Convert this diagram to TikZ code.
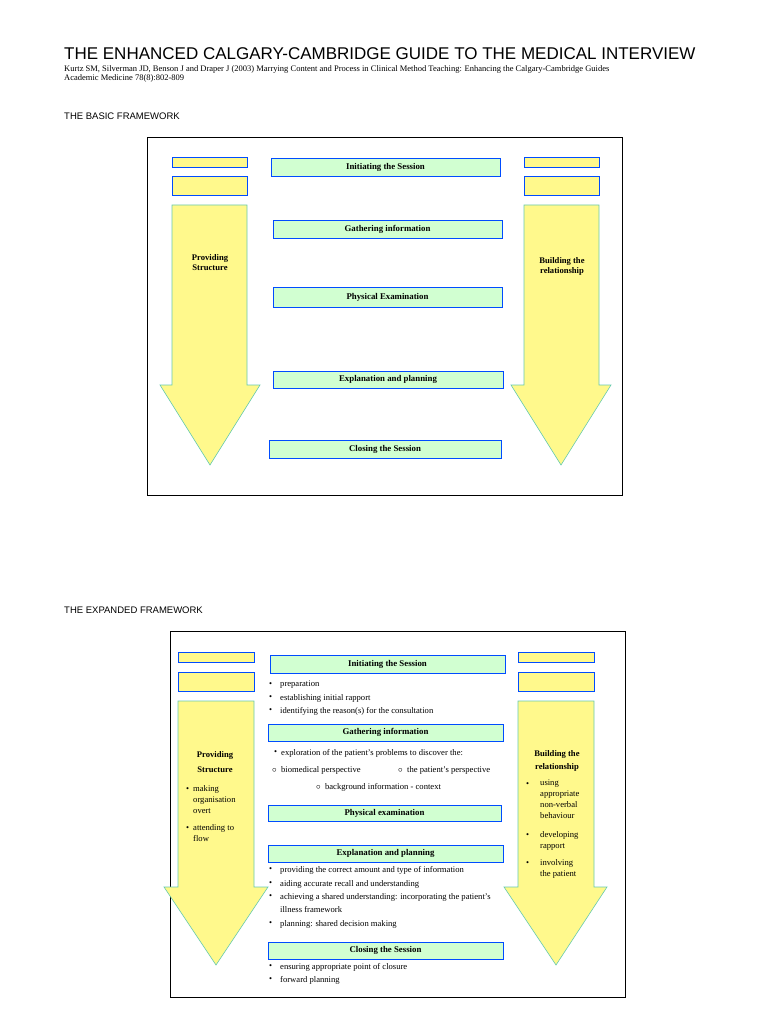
\documentclass[tikz,border=0pt]{standalone}
\usepackage{fontspec}
\setmainfont{Liberation Serif}
\newfontfamily\hdr{Liberation Sans}
\begin{document}
\begin{tikzpicture}[x=1pt,y=-1pt,
  stage/.style={draw=blue!70!cyan,line width=0.8pt,fill=green!18,font=\bfseries\fontsize{8.8}{9}\selectfont,inner sep=0pt},
  ybox/.style={draw=blue!70!cyan,line width=0.8pt,fill=yellow!45},
  arr/.style={draw=cyan!40!green!60,line width=0.6pt,fill=yellow!45},
  txt/.style={font=\fontsize{8.6}{9}\selectfont,anchor=west,inner sep=0pt},
  lst/.style={font=\fontsize{8.6}{11}\selectfont,anchor=north west,align=left,inner sep=0pt},
  side/.style={font=\bfseries\fontsize{8.6}{10}\selectfont,align=center,inner sep=0pt},
  frame/.style={draw=black,line width=0.7pt}]
\useasboundingbox (0,0) rectangle (768,1024);
\node[font=\hdr\fontsize{17}{18}\selectfont,anchor=west,inner sep=0pt] (title) at (64,54) {THE ENHANCED CALGARY-CAMBRIDGE GUIDE TO THE MEDICAL INTERVIEW};
\node[font=\fontsize{8.5}{9.5}\selectfont,anchor=north west,inner sep=0pt,align=left] (cite) at (64,65) {Kurtz SM, Silverman JD, Benson J and Draper J (2003) Marrying Content and Process in Clinical Method Teaching: Enhancing the Calgary-Cambridge Guides\\Academic Medicine 78(8):802-809};
\node[font=\hdr\fontsize{9.5}{10}\selectfont,anchor=west,inner sep=0pt] (basic) at (64,116) {THE BASIC FRAMEWORK};
\node[font=\hdr\fontsize{9.5}{10}\selectfont,anchor=west,inner sep=0pt] (expanded) at (64,610) {THE EXPANDED FRAMEWORK};
% basic
\draw[frame] (147,137) rectangle (622,495);
\draw[ybox] (172,157) rectangle (247,167);
\draw[ybox] (172,176) rectangle (247,195);
\draw[ybox] (524,157) rectangle (599,167);
\draw[ybox] (524,176) rectangle (599,195);
\draw[arr] (172,205) -- (247,205) -- (247,385) -- (260,385) -- (210,465) -- (160,385) -- (172,385) -- cycle;
\draw[arr] (524,205) -- (599,205) -- (599,385) -- (611,385) -- (561,465) -- (511,385) -- (524,385) -- cycle;
\node[side] (ps1) at (210,263) {Providing\\Structure};
\node[side] (br1) at (562,266) {Building the\\relationship};
\node[stage,minimum width=229pt,minimum height=18pt] (i1) at (385.5,167) {Initiating the Session};
\node[stage,minimum width=229pt,minimum height=18pt] (g1) at (387.5,229) {Gathering information};
\node[stage,minimum width=229pt,minimum height=20pt] (p1) at (387.5,297) {Physical Examination};
\node[stage,minimum width=230pt,minimum height=17pt] (e1) at (388,379.5) {Explanation and planning};
\node[stage,minimum width=232pt,minimum height=18pt] (c1) at (385,449) {Closing the Session};
% expanded
\draw[frame] (170,631) rectangle (625,997);
\draw[ybox] (178,652) rectangle (254,662);
\draw[ybox] (178,672) rectangle (254,691);
\draw[ybox] (518,652) rectangle (594,662);
\draw[ybox] (518,672) rectangle (594,691);
\draw[arr] (178,701) -- (254,701) -- (254,887) -- (268,887) -- (216,965) -- (164,887) -- (178,887) -- cycle;
\draw[arr] (518,701) -- (594,701) -- (594,887) -- (607,887) -- (556,965) -- (504,887) -- (518,887) -- cycle;
\node[side,font=\bfseries\fontsize{8.6}{15}\selectfont] (ps2) at (215,762) {Providing\\Structure};
\node[side,font=\bfseries\fontsize{8.6}{13}\selectfont] (br2) at (557,760.5) {Building the\\relationship};
\node[txt] at (186,790) {\textbullet};
\node[lst] (pl1) at (193,785) {making\\organisation\\overt};
\node[txt] at (186,829) {\textbullet};
\node[lst] (pl2) at (193,824) {attending to\\flow};
\node[txt] at (526,785) {\textbullet};
\node[lst] (bl1) at (540,780) {using\\appropriate\\non-verbal\\behaviour};
\node[txt] at (526,836) {\textbullet};
\node[lst] (bl2) at (540,831) {developing\\rapport};
\node[txt] at (526,864) {\textbullet};
\node[lst] (bl3) at (540,859) {involving\\the patient};
\node[stage,minimum width=235pt,minimum height=18pt] (i2) at (387.5,664) {Initiating the Session};
\node[stage,minimum width=235pt,minimum height=17pt] (g2) at (385.5,732.5) {Gathering information};
\node[stage,minimum width=233pt,minimum height=16pt] (p2) at (384.5,813) {Physical examination};
\node[stage,minimum width=235pt,minimum height=17pt] (e2) at (385.5,853.5) {Explanation and planning};
\node[stage,minimum width=235pt,minimum height=17pt] (c2) at (385.5,950.5) {Closing the Session};
\foreach \y/\t in {685/preparation,698/establishing initial rapport,711/identifying the reason(s) for the consultation,
  870/providing the correct amount and type of information,884/aiding accurate recall and understanding,
  897/{achieving a shared understanding: incorporating the patient's},924/planning: shared decision making,
  967/ensuring appropriate point of closure,980/forward planning}{
  \node[txt] at (269,\y) {\textbullet};
  \node[txt] at (280,\y) {\t};}
\node[txt] (ill) at (280,910) {illness framework};
\node[txt] at (274,753) {\textbullet};
\node[txt] (expl) at (281,753) {exploration of the patient's problems to discover the:};
\node[txt] (bio) at (272,770) {$\circ$\ \ biomedical perspective};
\node[txt] (pat) at (398,770) {$\circ$\ \ the patient's perspective};
\node[txt] (bg) at (316,787) {$\circ$\ \ background information - context};
\end{tikzpicture}
\end{document}
